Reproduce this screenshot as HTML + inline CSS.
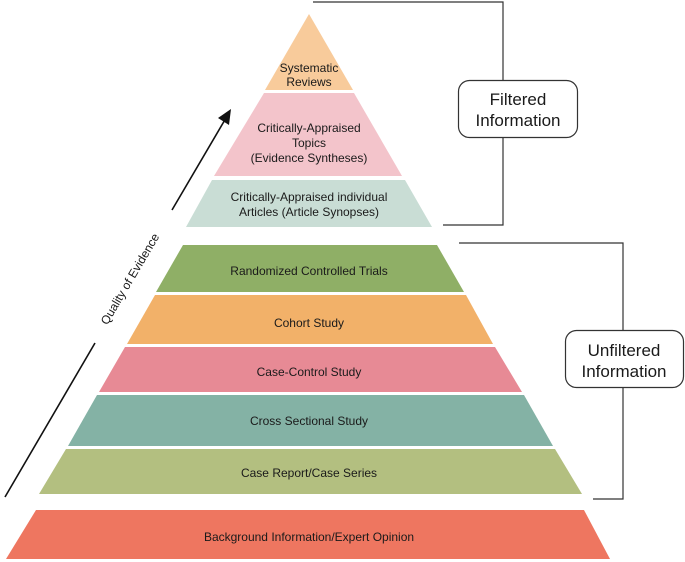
<!DOCTYPE html>
<html><head><meta charset="utf-8"><style>
html,body{margin:0;padding:0;background:#fff;}
svg{display:block;}
text{font-family:"Liberation Sans",Arial,sans-serif;fill:#1a1a1a;}
</style></head><body>
<svg width="685" height="562" viewBox="0 0 685 562" xmlns="http://www.w3.org/2000/svg">
<!-- top pyramid -->
<polygon points="309,14 353,90 265,90" fill="#f8cb9b"/>
<polygon points="264,93 354,93 402,176 214,176" fill="#f3c4cb"/>
<polygon points="212,180 405,180 432,227 186,227" fill="#c9ddd5"/>
<!-- lower -->
<polygon points="183,245 437,245 464,292 156,292" fill="#8faf66"/>
<polygon points="155,295 466,295 493,344 127,344" fill="#f2b169"/>
<polygon points="125,347 495,347 522,392 99,392" fill="#e78a95"/>
<polygon points="97,395 524,395 553,446 68,446" fill="#84b2a5"/>
<polygon points="66,449 555,449 582,494 39,494" fill="#b3bf80"/>
<polygon points="36,510 584,510 610,559 6,559" fill="#ee7660"/>

<g font-size="12" text-anchor="middle">
<text x="309" y="72">Systematic</text>
<text x="309" y="86">Reviews</text>
<text x="309" y="132">Critically-Appraised</text>
<text x="309" y="147">Topics</text>
<text x="309" y="162">(Evidence Syntheses)</text>
<text x="309" y="201">Critically-Appraised individual</text>
<text x="309" y="216">Articles (Article Synopses)</text>
<text x="309" y="275">Randomized Controlled Trials</text>
<text x="309" y="327">Cohort Study</text>
<text x="309" y="376">Case-Control Study</text>
<text x="309" y="425">Cross Sectional Study</text>
<text x="309" y="477">Case Report/Case Series</text>
<text x="309" y="541">Background Information/Expert Opinion</text>
</g>

<!-- brackets -->
<g stroke="#333" stroke-width="1.2" fill="none">
<polyline points="313,2 503,2 503,225 443,225"/>
<polyline points="459,243 623,243 623,499 593,499"/>
</g>
<rect x="458.5" y="80.5" width="119" height="57" rx="11" fill="#fff" stroke="#333" stroke-width="1.2"/>
<rect x="565.5" y="330.5" width="118" height="57" rx="11" fill="#fff" stroke="#333" stroke-width="1.2"/>
<g font-size="17" text-anchor="middle">
<text x="518" y="105">Filtered</text>
<text x="518" y="126">Information</text>
<text x="624" y="356">Unfiltered</text>
<text x="624" y="377">Information</text>
</g>

<!-- quality arrow -->
<line x1="5" y1="497" x2="95" y2="343" stroke="#111" stroke-width="1.6"/>
<line x1="172" y1="210" x2="226" y2="118" stroke="#111" stroke-width="1.6"/>
<polygon points="231,109 229,125 218,118" fill="#111"/>
<text x="130" y="283" font-size="12" text-anchor="middle" transform="rotate(-59.5 130 279)">Quality of Evidence</text>
</svg>
</body></html>
